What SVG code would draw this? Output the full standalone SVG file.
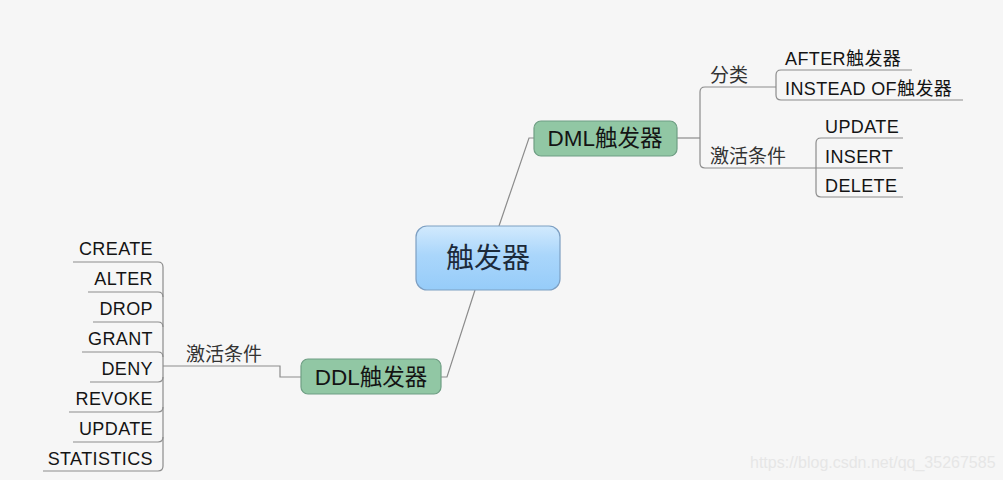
<svg xmlns="http://www.w3.org/2000/svg" width="1003" height="480" viewBox="0 0 1003 480">
<defs>
<linearGradient id="blueGrad" x1="0" y1="0" x2="0" y2="1">
<stop offset="0" stop-color="#d2eafd"/>
<stop offset="0.45" stop-color="#aad6fb"/>
<stop offset="1" stop-color="#96ccf9"/>
</linearGradient>
<style>
.bg{fill:#f6f6f6}
.ln{fill:none;stroke:#8c8c8c;stroke-width:1.2}
.green{fill:#91c7a4;stroke:#6f9e84;stroke-width:1.2}
.blue{fill:url(#blueGrad);stroke:#7d9fc2;stroke-width:1.2}
.lat{font-family:"Liberation Sans","Noto Sans CJK SC",sans-serif;font-size:18px;fill:#141414;letter-spacing:0.4px}
.cn{font-family:"Noto Sans CJK SC",sans-serif;font-size:19px;fill:#333}
.node{font-family:"Liberation Sans","Noto Sans CJK SC",sans-serif;font-size:22.5px;fill:#141414;text-anchor:middle}
.root{font-family:"Noto Sans CJK SC",sans-serif;font-size:28px;fill:#1c2a3a;text-anchor:middle}
.wm{font-family:"Liberation Sans",sans-serif;font-size:16px;fill:#e6e6e6}
</style>
</defs>
<rect class="bg" x="0" y="0" width="1003" height="480"/>

<g id="connectors">
<path class="ln" d="M499,226 L529,138 H534"/>
<path class="ln" d="M441,377 H447 L475,290"/>
<path class="ln" d="M677,138 H700"/>
<path class="ln" d="M705,87 Q700,87 700,92 V163 Q700,168 705,168"/>
<path class="ln" d="M705,87 H776"/>
<path class="ln" d="M705,168 H903"/>
<path class="ln" d="M912,70 H781 Q776,70 776,75 V95 Q776,100 781,100 H963"/>
<path class="ln" d="M903,138 H821 Q816,138 816,143 V192 Q816,197 821,197 H903"/>
<path class="ln" d="M302,377 H280 V366 H163"/>
<path class="ln" d="M73,262 H158 Q163,262 163,267 V466 Q163,471 158,471 H43"/>
<path class="ln" d="M88,292 H158 Q163,292 163,297"/>
<path class="ln" d="M93,322 H158 Q163,322 163,327"/>
<path class="ln" d="M82,352 H158 Q163,352 163,357"/>
<path class="ln" d="M90,382 H158 Q163,382 163,377"/>
<path class="ln" d="M69,412 H158 Q163,412 163,407"/>
<path class="ln" d="M73,442 H158 Q163,442 163,437"/>
</g>

<g id="root">
<rect class="blue" x="416" y="226" width="144" height="64" rx="11"/>
<text class="root" x="488" y="268">触发器</text>
</g>

<g id="dml">
<rect class="green" x="534" y="121" width="143" height="35" rx="7"/>
<text class="node" x="605" y="146">DML触发器</text>
</g>

<g id="ddl">
<rect class="green" x="301" y="359" width="140" height="35" rx="7"/>
<text class="node" x="371" y="385">DDL触发器</text>
</g>

<g id="dml-fenlei"><text class="cn" x="710" y="82">分类</text></g>
<g id="dml-after"><text class="lat" x="785" y="65">AFTER触发器</text></g>
<g id="dml-instead"><text class="lat" x="785" y="95">INSTEAD OF触发器</text></g>
<g id="dml-jihuo"><text class="cn" x="710" y="163">激活条件</text></g>
<g id="dml-update"><text class="lat" x="825" y="133">UPDATE</text></g>
<g id="dml-insert"><text class="lat" x="825" y="163">INSERT</text></g>
<g id="dml-delete"><text class="lat" x="825" y="192">DELETE</text></g>

<g id="ddl-jihuo"><text class="cn" x="186" y="361">激活条件</text></g>
<g id="ddl-items">
<text class="lat" x="153" y="255" text-anchor="end">CREATE</text>
<text class="lat" x="153" y="285" text-anchor="end">ALTER</text>
<text class="lat" x="153" y="315" text-anchor="end">DROP</text>
<text class="lat" x="153" y="345" text-anchor="end">GRANT</text>
<text class="lat" x="153" y="375" text-anchor="end">DENY</text>
<text class="lat" x="153" y="405" text-anchor="end">REVOKE</text>
<text class="lat" x="153" y="435" text-anchor="end">UPDATE</text>
<text class="lat" x="153" y="465" text-anchor="end">STATISTICS</text>
</g>

<text class="wm" x="750" y="468">https://blog.csdn.net/qq_35267585</text>
</svg>
